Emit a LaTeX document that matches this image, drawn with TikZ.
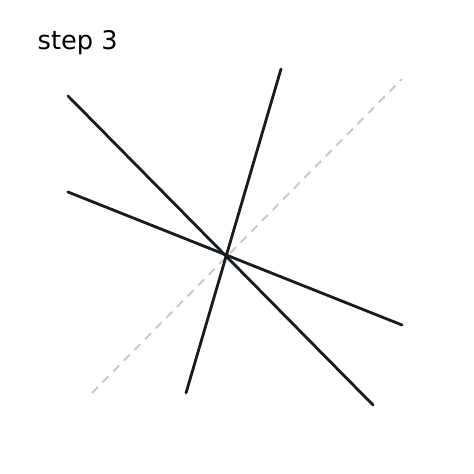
\documentclass[tikz,border=0pt]{standalone}
\usepackage{fontspec}
\setmainfont{DejaVu Sans}
\usetikzlibrary{positioning}
\definecolor{inkline}{RGB}{22,28,32}
\definecolor{guidegray}{RGB}{200,200,200}

\begin{document}
\begin{tikzpicture}[x=0.01cm, y=-0.01cm,
    stroke/.style={draw=inkline, line width=0.8pt, line cap=round},
    guide/.style={draw=guidegray, line width=0.55pt, dash pattern=on 2.4pt off 1.9pt}]
  \useasboundingbox (0,0) rectangle (474,474);

  % title
  \node[anchor=base west, inner sep=0pt, font=\fontsize{7.3}{8}\selectfont] (title) at (37,50) {step 3};

  % dashed guide
  \coordinate (g1) at (92,393);
  \coordinate (g2) at (402,79);
  \draw[guide] (g1) -- (g2);

  % three strokes through the centre
  \coordinate (a1) at (68,96);
  \coordinate (a2) at (373,405);
  \coordinate (b1) at (68,192);
  \coordinate (b2) at (402,325);
  \coordinate (c1) at (281,69);
  \coordinate (c2) at (186,393);
  \draw[stroke] (a1) -- (a2);
  \draw[stroke] (b1) -- (b2);
  \draw[stroke] (c1) -- (c2);
\end{tikzpicture}
\end{document}
